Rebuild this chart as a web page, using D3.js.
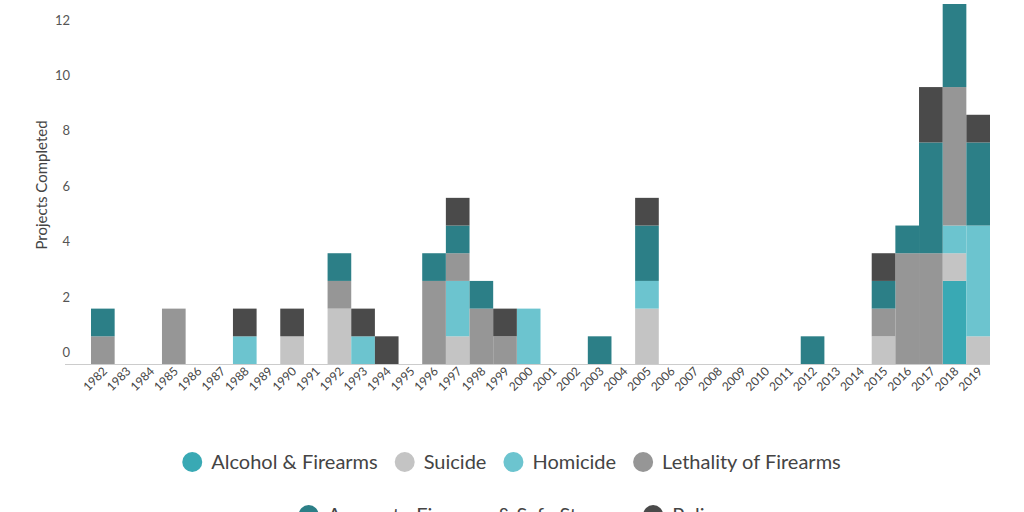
<!DOCTYPE html><html><head><meta charset="utf-8"><script src="https://cdn.jsdelivr.net/npm/d3@7"></script>
<style>body{margin:0;background:#fff}text{font-family:Lato,"Open Sans",sans-serif}</style></head><body><svg width="1024" height="512"></svg><script>
const years=d3.range(1982,2020).map(String);
const seriesNames=["Alcohol & Firearms","Suicide","Homicide","Lethality of Firearms","Access to Firearms & Safe Storage","Policy"];
const colors=["#39a9b4","#c4c4c4","#6cc4cf","#969696","#2c7f87","#4a4a4a"];
const alcohol={"2018":3};
const suicide={"1990":1,"1992":2,"1997":1,"2005":2,"2015":1,"2018":1,"2019":1};
const homicide={"1988":1,"1993":1,"1997":2,"2000":2,"2005":1,"2018":1,"2019":4};
const lethality={"1982":1,"1985":2,"1992":1,"1996":3,"1997":1,"1998":2,"1999":1,"2015":1,"2016":4,"2017":4,"2018":5};
const access={"1982":1,"1992":1,"1996":1,"1997":1,"1998":1,"2003":1,"2005":2,"2012":1,"2015":1,"2016":1,"2017":4,"2018":3,"2019":3};
const policy={"1988":1,"1990":1,"1993":1,"1994":1,"1997":1,"1999":1,"2005":1,"2015":1,"2017":2,"2019":1};
const yTicks=[0,2,4,6,8,10,12];
const src=[alcohol,suicide,homicide,lethality,access,policy];
const rows=years.map(y=>{const r={year:y};seriesNames.forEach((n,i)=>r[n]=src[i][y]||0);return r;});
const svg=d3.select("svg");
const x=d3.scaleBand().domain(years).range([91,990]).padding(0);
const y=d3.scaleLinear().domain([0,13]).range([364,4]);
const stack=d3.stack().keys(seriesNames)(rows);
svg.selectAll("g.s").data(stack).join("g").attr("fill",(d,i)=>colors[i])
 .selectAll("rect").data(d=>d).join("rect")
 .attr("x",d=>x(d.data.year)).attr("width",x.bandwidth())
 .attr("y",d=>y(d[1])).attr("height",d=>y(d[0])-y(d[1]));
svg.append("line").attr("x1",65).attr("x2",990).attr("y1",364.5).attr("y2",364.5).attr("stroke","#ccc");
svg.selectAll("text.yt").data(yTicks).join("text").attr("x",70).attr("y",d=>y(d)-7)
 .attr("text-anchor","end").attr("font-size",13).attr("fill","#555").text(d=>d);
svg.append("text").attr("transform","translate(47,185) rotate(-90)").attr("text-anchor","middle")
 .attr("font-size",15).attr("fill","#444").text("Projects Completed");
svg.selectAll("text.xt").data(years).join("text")
 .attr("transform",d=>`translate(${x(d)+x.bandwidth()/2+5},${372}) rotate(-45)`)
 .attr("text-anchor","end").attr("font-size",12).attr("fill","#444").text(d=>d);
function legend(items,cy){
 const g=svg.append("g");let cx=0;
 items.forEach(i=>{const gi=g.append("g").attr("transform",`translate(${cx},0)`);
  gi.append("circle").attr("cx",9).attr("cy",0).attr("r",10).attr("fill",colors[i]);
  const t=gi.append("text").attr("x",28).attr("y",7).attr("font-size",20).attr("fill","#444").text(seriesNames[i]);
  cx+=28+t.node().getComputedTextLength()+18;});
 g.attr("transform",`translate(${512-(cx-18)/2},${cy})`);
}
legend([0,1,2,3],462);legend([4,5],515);
</script></body></html>
